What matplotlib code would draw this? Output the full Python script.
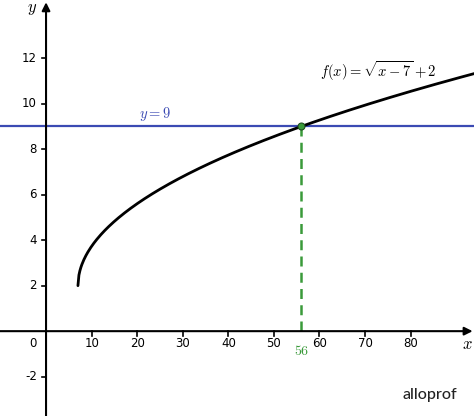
import numpy as np
import matplotlib.pyplot as plt

# f(x) = sqrt(x - 7) + 2, drawn from its start point to the right edge
x_start, x_end = 7, 94
y_level = 9
x_cross = 56
x_ticks = [10, 20, 30, 40, 50, 60, 70, 80]
y_ticks = [-2, 2, 4, 6, 8, 10, 12]

xmin, xmax = -10.1, 93.9
ymin, ymax = -3.73, 14.56

blue = '#3b4ab3'
green = '#3a9a3a'

plt.rcParams['mathtext.fontset'] = 'cm'

fig = plt.figure(figsize=(4.74, 4.16), dpi=100)
ax = fig.add_axes([0, 0, 1, 1])
ax.set_xlim(xmin, xmax)
ax.set_ylim(ymin, ymax)
ax.axis('off')

# axes with arrows
ax.annotate('', xy=(xmax - 0.3, 0), xytext=(xmin, 0),
            arrowprops=dict(arrowstyle='-|>', color='black', lw=1.5,
                            mutation_scale=12, shrinkA=0, shrinkB=0))
ax.annotate('', xy=(0, ymax - 0.1), xytext=(0, ymin),
            arrowprops=dict(arrowstyle='-|>', color='black', lw=1.5,
                            mutation_scale=12, shrinkA=0, shrinkB=0))

# ticks and labels
for t in x_ticks:
    ax.plot([t, t], [0, -0.22], color='black', lw=1.2)
    ax.text(t, -0.55, str(t), ha='center', va='center', fontsize=8.5)
for t in y_ticks:
    ax.plot([-0.9, 0], [t, t], color='black', lw=1.2)
    ax.text(-2.0, t, str(t), ha='right', va='center', fontsize=8.5)
ax.text(-2.0, -0.55, '0', ha='right', va='center', fontsize=8.5)

ax.text(92.5, -0.55, '$x$', ha='center', va='center', fontsize=12)
ax.text(-3.0, 14.2, '$y$', ha='center', va='center', fontsize=12)

# horizontal line y = 9
ax.axhline(y_level, color=blue, lw=1.6)
ax.text(24, 9.55, '$y = 9$', color=blue, ha='center', va='center', fontsize=10.5)

# curve
xs = np.linspace(x_start, x_end, 400)
ax.plot(xs, np.sqrt(xs - 7) + 2, color='black', lw=2, solid_capstyle='round')
ax.text(72.8, 11.45, r'$f(x) = \sqrt{x-7}+2$', ha='center', va='center', fontsize=10.5)

# intersection
ax.plot([x_cross, x_cross], [0, y_level], color=green, lw=1.8, ls=(0, (4, 2.5)))
ax.plot(x_cross, y_level, 'o', color=green, markeredgecolor='#1f4d1f',
        markersize=5, markeredgewidth=0.8, zorder=5)
ax.text(x_cross, -0.88, '$56$', color=green, ha='center', va='center', fontsize=10)

ax.text(84.2, -2.8, 'alloprof', ha='center', va='center', fontsize=11.5,
        color='#222222', family='Lato', weight='medium')

fig.savefig('out.png', dpi=100)
